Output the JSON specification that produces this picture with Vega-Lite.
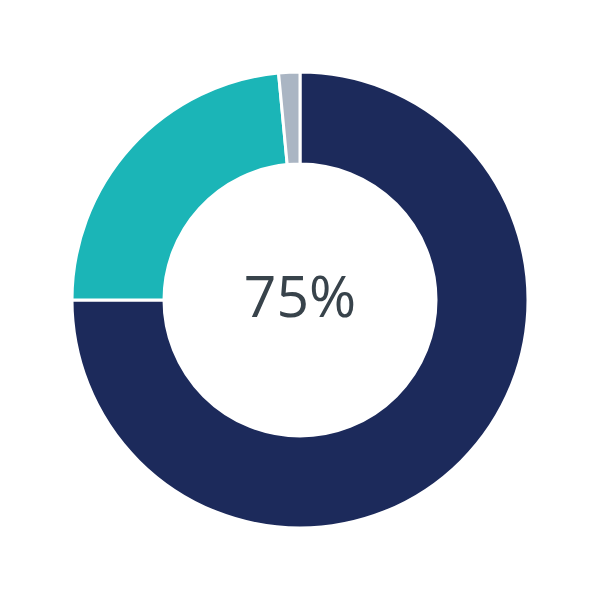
{
  "$schema": "https://vega.github.io/schema/vega-lite/v6.json",
  "autosize": {"type": "fit", "contains": "padding"},
  "width": 600,
  "height": 600,
  "padding": 0,
  "background": "white",
  "config": {"view": {"stroke": null}, "font": "Open Sans"},
  "layer": [
    {
      "data": {
        "values": [
          {"segment": "A", "order": 1, "share": 75},
          {"segment": "B", "order": 2, "share": 23.5},
          {"segment": "C", "order": 3, "share": 1.5}
        ]
      },
      "mark": {"type": "arc", "radius": 228, "radius2": 136, "stroke": "white", "strokeWidth": 3},
      "encoding": {
        "theta": {"field": "share", "type": "quantitative", "stack": true},
        "order": {"field": "order", "type": "quantitative"},
        "color": {
          "field": "segment",
          "type": "nominal",
          "scale": {"domain": ["A", "B", "C"], "range": ["#1c2a5b", "#1bb5b7", "#aab5c3"]},
          "legend": null
        }
      }
    },
    {
      "data": {"values": [{"label": "75%"}]},
      "mark": {"type": "text", "font": "Open Sans", "fontSize": 57, "color": "#38434b", "baseline": "middle", "align": "center"},
      "encoding": {"text": {"field": "label", "type": "nominal"}}
    }
  ]
}
